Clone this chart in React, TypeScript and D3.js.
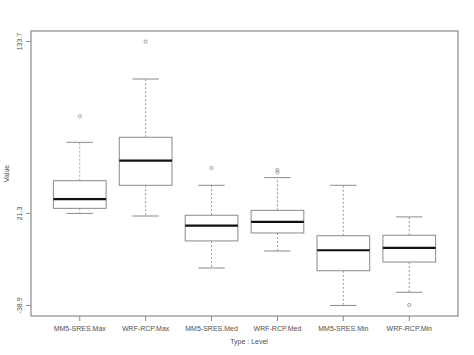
import React from "react";
import * as d3 from "d3";

const categories = ["MM5-SRES.Max", "WRF-RCP.Max", "MM5-SRES.Med", "WRF-RCP.Med", "MM5-SRES.Min", "WRF-RCP.Min"];
const whiskerLow = [21.3, 19.6, -14.4, -3.3, -38.9, -30.3];
const q1 = [24.6, 39.7, 3.3, 8.5, -16.2, -10.5];
const median = [30.7, 55.8, 13.3, 15.7, -2.8, -1.3];
const q3 = [42.7, 71.1, 20.1, 23.3, 6.7, 7.0];
const whiskerHigh = [67.8, 109.2, 39.7, 44.7, 39.7, 19.0];
const outliers = [[84.8], [133.7], [51.0], [49.7, 48.2], [], [-38.6]];
const yTicks = [-38.9, 21.3, 133.7];

const W = 474, H = 355;
const left = 31, right = 458, top = 31, bottom = 316;

export default function App() {
  const yMin = -38.9, yMax = 133.7;
  const ext = (yMax - yMin) * 0.04;
  const y = d3.scaleLinear().domain([yMin - ext, yMax + ext]).range([bottom, top]);
  const n = categories.length;
  const xext = n * 0.04;
  const x = d3.scaleLinear().domain([0.5 - xext, n + 0.5 + xext]).range([left, right]);
  const bw = x(0.8) - x(0);
  const sw = bw / 2;
  const line = "#8a8a8a";
  const font = "Liberation Sans, Arial, sans-serif";
  const tc = "#505050";
  return (
    <svg width={W} height={H} style={{ position: "absolute", left: 0, top: 0, background: "#fff" }}>
      <rect x={0} y={0} width={W} height={H} fill="#fff" />
      {categories.map((c, i) => {
        const cx = x(i + 1);
        return (
          <g key={c}>
            <line x1={cx} x2={cx} y1={y(q3[i])} y2={y(whiskerHigh[i])} stroke={line} strokeDasharray="2,2" strokeWidth={0.9} />
            <line x1={cx} x2={cx} y1={y(q1[i])} y2={y(whiskerLow[i])} stroke={line} strokeDasharray="2,2" strokeWidth={0.9} />
            <line x1={cx - sw / 2} x2={cx + sw / 2} y1={y(whiskerHigh[i])} y2={y(whiskerHigh[i])} stroke={line} strokeWidth={1} />
            <line x1={cx - sw / 2} x2={cx + sw / 2} y1={y(whiskerLow[i])} y2={y(whiskerLow[i])} stroke={line} strokeWidth={1} />
            <rect x={cx - bw / 2} y={y(q3[i])} width={bw} height={y(q1[i]) - y(q3[i])} fill="#fff" stroke={line} strokeWidth={1} />
            <line x1={cx - bw / 2} x2={cx + bw / 2} y1={y(median[i])} y2={y(median[i])} stroke="#111" strokeWidth={2.2} />
            {outliers[i].map((o, k) => (
              <circle key={k} cx={cx} cy={y(o)} r={1.6} fill="none" stroke={line} strokeWidth={0.8} />
            ))}
            <line x1={cx} x2={cx} y1={bottom} y2={bottom + 5} stroke={line} />
            <text x={cx} y={331} textAnchor="middle" fontSize={7} fontFamily={font} fill={tc}>{c}</text>
          </g>
        );
      })}
      {yTicks.map((t) => (
        <g key={t}>
          <line x1={left - 5} x2={left} y1={y(t)} y2={y(t)} stroke={line} />
          <text transform={`translate(21.5,${y(t)}) rotate(-90)`} textAnchor="middle" fontSize={7} fontFamily={font} fill={tc}>{t}</text>
        </g>
      ))}
      <rect x={left} y={top} width={right - left} height={bottom - top} fill="none" stroke={line} strokeWidth={1.2} />
      <text x={249} y={344} textAnchor="middle" fontSize={7} fontFamily={font} fill={tc}>Type : Level</text>
      <text transform={`translate(8.5,${(top + bottom) / 2}) rotate(-90)`} textAnchor="middle" fontSize={7} fontFamily={font} fill={tc}>Value</text>
    </svg>
  );
}
